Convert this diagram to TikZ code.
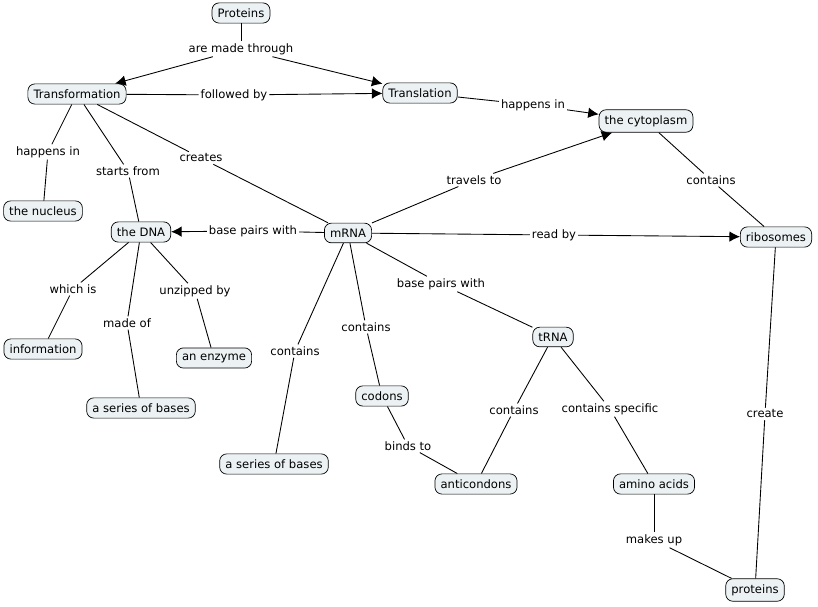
\documentclass[tikz,border=0pt]{standalone}
\usepackage{fontspec}
\setmainfont{DejaVu Sans}
\usetikzlibrary{arrows.meta}
\definecolor{conceptfill}{RGB}{236,242,244}
\tikzset{>=Latex}

\begin{document}
\begin{tikzpicture}[x=0.02cm,y=-0.02cm,
  concept/.style={draw=black, fill=conceptfill, rounded corners=4pt, inner sep=3.2pt, font=\fontsize{6.6}{8}\selectfont},
  link/.style={fill=white, inner sep=1pt, font=\fontsize{6.6}{8}\selectfont},
  edge/.style={draw=black, line width=0.5pt},
  arr/.style={edge, ->, >={Latex[length=6pt,width=6pt]}}]

\useasboundingbox (0,0) rectangle (818,607);

% concepts
\node[concept] (proteins) at (241,13) {Proteins};
\node[concept] (transf) at (77,94) {Transformation};
\node[concept] (transl) at (420,93) {Translation};
\node[concept] (cyto) at (646,121) {the cytoplasm};
\node[concept] (nucleus) at (43,211) {the nucleus};
\node[concept] (dna) at (141,232) {the DNA};
\node[concept] (mrna) at (348,233) {mRNA};
\node[concept] (ribo) at (776,237) {ribosomes};
\node[concept] (info) at (43,349) {information};
\node[concept] (enzyme) at (214,358) {an enzyme};
\node[concept] (bases) at (141,408) {a series of bases};
\node[concept] (trna) at (553,337) {tRNA};
\node[concept] (codons) at (382,396) {codons};
\node[concept] (bases2) at (274,464) {a series of bases};
\node[concept] (anti) at (476,484) {anticondons};
\node[concept] (amino) at (654,484) {amino acids};
\node[concept] (prot) at (755,590) {proteins};

% linking phrases
\node[link] (l1) at (241,49) {are made through};
\node[link] (l2) at (234,95) {followed by};
\node[link] (l3) at (533,105) {happens in};
\node[link] (l4) at (48,152) {happens in};
\node[link] (l5) at (128,171) {starts from};
\node[link] (l6) at (201,158) {creates};
\node[link] (l7) at (474,180) {travels to};
\node[link] (l8) at (711,180) {contains};
\node[link] (l9) at (253,231) {base pairs with};
\node[link] (l10) at (554,235) {read by};
\node[link] (l11) at (73,289) {which is};
\node[link] (l12) at (127,323) {made of};
\node[link] (l13) at (195,291) {unzipped by};
\node[link] (l14) at (441,284) {base pairs with};
\node[link] (l15) at (295,351) {contains};
\node[link] (l16) at (366,327) {contains};
\node[link] (l17) at (408,446) {binds to};
\node[link] (l18) at (514,410) {contains};
\node[link] (l19) at (610,409) {contains specific};
\node[link] (l20) at (765,414) {create};
\node[link] (l21) at (654,540) {makes up};

% connectors
\draw[edge] (proteins) -- (l1);
\draw[arr] (l1) -- (transf);
\draw[arr] (l1) -- (transl);
\draw[edge] (transf) -- (l2);
\draw[arr] (l2) -- (transl);
\draw[edge] (transl) -- (l3);
\draw[arr] (l3) -- (cyto);
\draw[edge] (transf) -- (l4);
\draw[edge] (l4) -- (nucleus);
\draw[edge] (transf) -- (l5);
\draw[edge] (l5) -- (dna);
\draw[edge] (transf) -- (l6);
\draw[edge] (l6) -- (mrna);
\draw[edge] (mrna) -- (l7);
\draw[arr] (l7) -- (cyto);
\draw[edge] (cyto) -- (l8);
\draw[edge] (l8) -- (ribo);
\draw[edge] (mrna) -- (l9);
\draw[arr] (l9) -- (dna);
\draw[edge] (mrna) -- (l10);
\draw[arr] (l10) -- (ribo);
\draw[edge] (dna) -- (l11);
\draw[edge] (l11) -- (info);
\draw[edge] (dna) -- (l12);
\draw[edge] (l12) -- (bases);
\draw[edge] (dna) -- (l13);
\draw[edge] (l13) -- (enzyme);
\draw[edge] (mrna) -- (l14);
\draw[edge] (l14) -- (trna);
\draw[edge] (mrna) -- (l15);
\draw[edge] (l15) -- (bases2);
\draw[edge] (mrna) -- (l16);
\draw[edge] (l16) -- (codons);
\draw[edge] (codons) -- (l17);
\draw[edge] (l17) -- (anti);
\draw[edge] (trna) -- (l18);
\draw[edge] (l18) -- (anti);
\draw[edge] (trna) -- (l19);
\draw[edge] (l19) -- (amino);
\draw[edge] (ribo) -- (l20);
\draw[edge] (l20) -- (prot);
\draw[edge] (amino) -- (l21);
\draw[edge] (l21) -- (prot);

\end{tikzpicture}
\end{document}
